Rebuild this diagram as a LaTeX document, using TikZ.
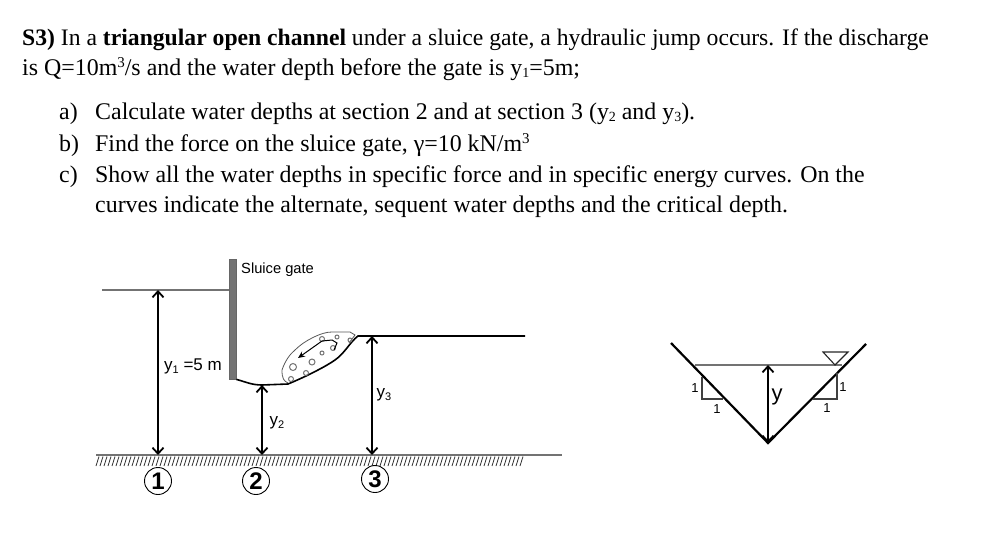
\documentclass[tikz,border=0pt]{standalone}
\usepackage{fontspec}
\setmainfont{Liberation Serif}
\setsansfont{Liberation Sans}
\usetikzlibrary{positioning,arrows.meta}
\newcommand{\lowsub}[1]{\raisebox{-0.25ex}{\fontsize{14}{14}\selectfont #1}}
\newcommand{\highsup}[1]{\raisebox{0.72ex}{\fontsize{15}{15}\selectfont #1}}

\begin{document}
\begin{tikzpicture}[
	x=1pt,y=-1pt,
	textline/.style={anchor=base west,inner sep=0pt,font=\fontsize{23.9}{26}\selectfont},
	sanslabel/.style={inner sep=0pt,font=\sffamily\fontsize{17}{18}\selectfont},
	smalllabel/.style={inner sep=0pt,font=\sffamily\fontsize{13}{14}\selectfont},
	depth/.style={line width=1.8pt,{Straight Barb[length=6pt,width=11pt,line width=1.8pt]}-{Straight Barb[length=6pt,width=11pt,line width=1.8pt]}},
	graywater/.style={draw=black!55,line width=1.4pt},
	section/.style={draw,circle,minimum size=27pt,inner sep=0pt,line width=0.9pt,font=\sffamily\bfseries\fontsize{24}{25}\selectfont},
	bubble/.style={draw=black!55,circle,line width=1pt,inner sep=0pt}
	]
	\useasboundingbox (0,0) rectangle (984,538);
	% question text
	\node[textline,font=\fontsize{23.65}{26}\selectfont] (line1) at (22,45) {\textbf{S3)} In a \textbf{triangular open channel} under a sluice gate, a hydraulic jump occurs. If the discharge};
	\node[textline] (line2) at (22,75) {is Q=10m\highsup{3}/s and the water depth before the gate is y\lowsub{1}=5m;};
	\node[textline] (itema) at (59,119) {a)};
	\node[textline] (linea) at (95,119) {Calculate water depths at section 2 and at section 3 (y\lowsub{2} and y\lowsub{3}).};
	\node[textline] (itemb) at (59,151) {b)};
	\node[textline] (lineb) at (95,151) {Find the force on the sluice gate, γ=10 kN/m\highsup{3}};
	\node[textline] (itemc) at (59,182) {c)};
	\node[textline] (linec) at (95,182) {Show all the water depths in specific force and in specific energy curves. On the};
	\node[textline] (lined) at (95,212) {curves indicate the alternate, sequent water depths and the critical depth.};
	% channel profile
	\coordinate (bedleft) at (96,455);
	\coordinate (bedright) at (562,455);
	\coordinate (surf1left) at (102,290);
	\coordinate (surf1) at (158,290);
	\coordinate (gatetop) at (229,290);
	\coordinate (bed1) at (158,455);
	\coordinate (surf2) at (262,385);
	\coordinate (bed2) at (262,455);
	\coordinate (surf3) at (372,336);
	\coordinate (bed3) at (372,455);
	\coordinate (surf3right) at (525,336);
	\draw[graywater] (surf1left) -- (gatetop);
	\draw[graywater] (bedleft) -- (bedright);
	\foreach \i in {0,...,106}
		\draw[black!80,line width=0.8pt] ({96+4*\i},466) -- ({99+4*\i},456.5);
	\node[draw=black!60,fill=black!55,minimum width=7pt,minimum height=120pt,inner sep=0pt,anchor=north west] (gate) at (229,259) {};
	\draw[line width=1.6pt] (gate.south east) to[out=-15,in=180] (surf2) -- (288,384) .. controls (305,377) and (325,367) .. (335,360) .. controls (345,353) and (350,342) .. (358,336) -- (surf3) -- (surf3right);
	% roller
	\draw[black!65,line width=0.8pt] (288,383) .. controls (284,381) and (282,379) .. (282,370) .. controls (285,361) and (290,354) .. (295,350) .. controls (300,345) and (306,341) .. (312,338) .. controls (320,334) and (326,332) .. (332,332) -- (350,332) -- (355,335) -- (349,343);
	\foreach \px/\py/\pr in {293/367/3.5,312/362/3,322/353/2,333/348/2.5,337/337/2,322/339/2.5,306/373/2.5,291/379/2.5,350/340/2}
		\node[bubble,minimum size=2*\pr pt] (b\px) at (\px,\py) {};
	\draw[line width=1pt,-{Stealth[length=7pt,width=6pt]}] (334,350) -- (337,343) -- (332,340) -- (322,341) -- (298,358);
	% depths
	\draw[depth] (surf1) -- (bed1);
	\draw[depth] (surf2) -- (bed2);
	\draw[depth] (surf3) -- (bed3);
	\node[sanslabel] (y1) at (193,366) {y\raisebox{-0.35ex}{\fontsize{11}{11}\selectfont 1} =5 m};
	\node[sanslabel] (y2) at (277,423) {y\raisebox{-0.35ex}{\fontsize{11}{11}\selectfont 2}};
	\node[sanslabel] (y3) at (384,395) {y\raisebox{-0.35ex}{\fontsize{11}{11}\selectfont 3}};
	\node[sanslabel,anchor=west,font=\sffamily\fontsize{14.7}{16}\selectfont] (gatelabel) at (241,270) {Sluice gate};
	\node[section] (sec1) at (158,481) {1};
	\node[section] (sec2) at (256,481) {2};
	\node[section] (sec3) at (375,479) {3};
	% cross section
	\coordinate (apex) at (768,443);
	\coordinate (leftend) at (671,343);
	\coordinate (rightend) at (866,344);
	\coordinate (waterleft) at (695,365);
	\coordinate (waterright) at (842,365);
	\coordinate (watermid) at (768,365);
	\draw[line width=2.2pt] (leftend) -- (apex) -- (rightend);
	\draw[graywater] (waterleft) -- (waterright);
	\draw[depth] (watermid) -- (apex);
	\draw[black!75,line width=1.1pt] (702,377) -- (702,399) -- (723,399);
	\draw[black!75,line width=1.1pt] (837,373) -- (837,399) -- (813,399);
	\draw[black!85,line width=1.1pt] (823,352) -- (848,352) -- (835,365) -- cycle;
	\node[smalllabel] (sideleft) at (695,388) {1};
	\node[smalllabel] (baseleft) at (717,409) {1};
	\node[smalllabel] (sideright) at (843,387) {1};
	\node[smalllabel] (baseright) at (827,408) {1};
	\node[sanslabel,font=\sffamily\fontsize{22}{24}\selectfont] (ylabel) at (777,397) {y};
\end{tikzpicture}
\end{document}
